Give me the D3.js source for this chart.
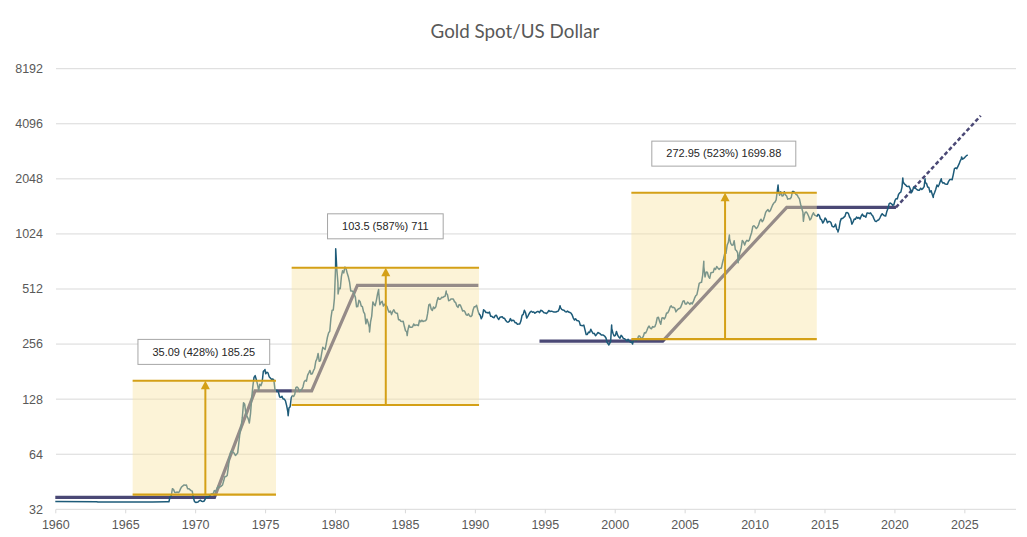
<!DOCTYPE html>
<html><head><meta charset="utf-8">
<script src="https://cdn.jsdelivr.net/npm/d3@7"></script>
<style>body{margin:0;background:#fff} svg{display:block}</style>
</head><body><svg id="c" width="1027" height="537"></svg>
<script>
const title = "Gold Spot/US Dollar";
const yTicks = [32, 64, 128, 256, 512, 1024, 2048, 4096, 8192];
const xTicks = [1960, 1965, 1970, 1975, 1980, 1985, 1990, 1995, 2000, 2005, 2010, 2015, 2020, 2025];

const earlyYears = [1960.0, 1962.95, 1963.05, 1966.95, 1967.95];
const earlyPrices = [35.27, 35.23, 35.09, 35.13, 35.2];

const monthlyStartYear = 1968;
const monthlyPrices = [
  35.2, 35.2, 37.5, 38.0, 41.5, 41.0, 39.5, 39.5, 39.8, 39.5, 40.0, 41.5,
  42.5, 43.0, 43.5, 43.3, 43.5, 41.5, 41.5, 41.0, 40.5, 40.2, 37.0, 35.2,
  34.9, 35.0, 35.1, 35.6, 35.9, 35.4, 35.3, 35.4, 36.2, 37.5, 37.4, 37.4,
  37.9, 38.7, 38.9, 39.0, 40.5, 40.1, 41.0, 42.7, 42.0, 42.5, 42.9, 43.5,
  45.8, 48.3, 48.3, 49.0, 54.6, 62.1, 65.7, 67.0, 65.5, 64.9, 63.0, 63.9,
  65.1, 74.2, 84.4, 90.5, 102.0, 122.5, 120.0, 106.8, 103.0, 100.1, 94.8, 106.7,
  129.2, 150.2, 168.4, 172.2, 163.3, 154.1, 143.0, 154.6, 151.8, 158.8, 181.7, 183.9,
  176.3, 179.6, 178.2, 169.9, 167.2, 164.2, 165.1, 163.0, 144.1, 142.8, 142.9, 139.3,
  131.6, 131.0, 132.6, 128.2, 128.1, 125.3, 117.9, 109.4, 114.5, 116.4, 130.3, 133.8,
  132.3, 136.3, 148.3, 149.2, 146.9, 140.8, 143.3, 144.8, 149.2, 159.0, 162.1, 160.5,
  173.2, 178.2, 183.7, 175.3, 176.3, 183.1, 188.3, 206.1, 212.4, 227.4, 206.0, 207.8,
  227.3, 245.7, 242.1, 239.2, 257.6, 279.1, 294.7, 300.8, 355.1, 391.7, 392.5, 455.1,
  675.3, 665.3, 553.6, 517.4, 513.8, 600.7, 644.3, 626.5, 673.6, 661.1, 623.5, 594.9,
  557.4, 500.0, 499.8, 495.8, 479.7, 460.8, 409.3, 410.2, 443.8, 437.8, 413.4, 410.1,
  384.1, 374.2, 330.4, 350.4, 334.0, 314.8, 338.6, 364.1, 435.2, 422.5, 415.0, 444.2,
  481.3, 491.3, 419.7, 432.8, 438.3, 412.9, 422.9, 416.3, 411.8, 393.7, 381.8, 388.1,
  370.9, 386.0, 394.3, 381.3, 377.6, 377.6, 347.8, 347.7, 341.1, 340.2, 341.2, 320.2,
  302.8, 299.0, 303.9, 324.3, 316.3, 316.8, 317.4, 329.6, 323.2, 325.8, 325.4, 322.5,
  345.4, 338.9, 345.7, 340.4, 342.5, 342.8, 348.3, 376.6, 418.9, 423.2, 398.1, 391.0,
  408.2, 401.1, 408.9, 438.4, 460.1, 449.8, 450.9, 461.0, 460.0, 465.5, 467.5, 486.3,
  477.0, 442.1, 443.6, 452.1, 451.5, 451.6, 437.0, 431.5, 413.0, 406.4, 420.6, 418.8,
  404.0, 387.8, 390.1, 384.1, 371.0, 367.6, 374.9, 365.3, 361.8, 366.9, 394.2, 409.5,
  410.1, 416.8, 393.1, 374.3, 369.0, 352.3, 362.5, 394.7, 389.3, 380.8, 381.1, 378.2,
  383.6, 363.8, 363.3, 358.4, 356.8, 366.7, 367.7, 356.2, 348.7, 358.4, 359.8, 361.1,
  354.5, 353.9, 344.3, 338.6, 337.2, 340.8, 352.8, 342.9, 345.4, 344.4, 335.0, 334.7,
  329.0, 329.3, 329.9, 341.9, 367.2, 371.8, 392.0, 379.8, 355.3, 364.2, 373.9, 383.3,
  387.0, 382.0, 383.9, 377.3, 381.4, 385.6, 385.5, 380.4, 391.6, 389.8, 384.4, 379.3,
  378.6, 376.5, 382.1, 391.0, 385.3, 387.6, 386.2, 383.7, 383.1, 383.0, 385.5, 387.4,
  400.0, 404.8, 396.2, 392.9, 392.1, 385.3, 383.5, 387.5, 383.1, 381.1, 377.9, 369.2,
  354.9, 346.6, 351.8, 344.5, 343.8, 340.8, 324.1, 323.8, 322.8, 324.9, 306.0, 288.7,
  289.2, 297.5, 295.9, 308.4, 299.1, 292.3, 292.9, 284.1, 289.0, 295.9, 294.1, 291.6,
  287.1, 287.3, 285.9, 282.6, 276.4, 261.3, 256.1, 256.7, 264.7, 310.7, 293.2, 283.1,
  284.6, 300.0, 286.4, 279.7, 275.3, 285.7, 281.6, 274.5, 273.7, 270.0, 266.0, 272.0,
  265.5, 261.9, 263.0, 260.5, 272.4, 270.2, 267.5, 272.4, 283.4, 283.1, 276.2, 275.9,
  281.7, 295.5, 294.0, 302.7, 314.5, 321.2, 313.3, 310.3, 319.2, 316.6, 319.1, 332.6,
  356.9, 359.0, 340.6, 328.2, 355.7, 356.4, 351.0, 359.8, 378.9, 378.9, 389.9, 407.6,
  414.0, 405.3, 406.7, 403.0, 383.8, 392.4, 398.1, 400.5, 405.3, 420.5, 439.4, 441.8,
  424.0, 423.4, 434.2, 429.2, 421.9, 430.7, 424.5, 437.9, 456.0, 469.9, 476.7, 510.1,
  549.9, 555.0, 557.1, 610.6, 675.4, 596.2, 633.7, 632.6, 598.2, 585.8, 627.8, 629.8,
  631.2, 664.8, 654.9, 679.4, 666.9, 655.5, 665.3, 665.4, 712.7, 754.6, 806.3, 803.2,
  889.6, 922.3, 968.4, 909.7, 888.7, 889.5, 939.8, 839.0, 829.9, 806.6, 760.9, 816.1,
  858.7, 943.2, 924.3, 890.2, 928.6, 945.7, 934.2, 949.4, 996.6, 1043.2, 1127.0, 1134.7,
  1117.9, 1095.4, 1113.3, 1148.7, 1205.4, 1232.9, 1193.0, 1215.8, 1271.0, 1342.0, 1369.9, 1390.6,
  1356.4, 1372.7, 1424.0, 1473.8, 1510.4, 1528.7, 1572.8, 1755.8, 1771.9, 1665.2, 1738.9, 1652.2,
  1656.1, 1742.6, 1673.8, 1650.1, 1585.5, 1596.7, 1593.9, 1626.0, 1744.5, 1746.6, 1721.6, 1684.8,
  1671.9, 1627.6, 1593.1, 1487.9, 1414.0, 1343.4, 1285.5, 1347.1, 1348.6, 1316.6, 1275.8, 1221.5,
  1244.3, 1299.6, 1336.1, 1298.5, 1288.7, 1279.1, 1310.6, 1295.1, 1236.6, 1222.5, 1175.3, 1200.6,
  1250.8, 1227.1, 1178.6, 1198.9, 1198.6, 1181.5, 1128.3, 1117.9, 1124.8, 1159.3, 1086.4, 1068.3,
  1097.9, 1199.5, 1245.1, 1242.3, 1260.9, 1276.4, 1337.3, 1340.2, 1326.6, 1266.6, 1238.4, 1157.4,
  1192.1, 1234.2, 1231.1, 1266.9, 1246.0, 1260.3, 1236.8, 1283.0, 1314.1, 1279.5, 1281.9, 1264.5,
  1331.3, 1330.7, 1324.7, 1334.8, 1303.5, 1281.6, 1237.7, 1201.7, 1198.4, 1215.4, 1220.7, 1250.4,
  1291.8, 1320.1, 1300.9, 1285.9, 1283.7, 1359.0, 1412.9, 1500.4, 1510.6, 1494.8, 1470.0, 1479.1,
  1560.7, 1597.1, 1591.9, 1683.2, 1715.9, 1732.2, 1846.5, 1968.6, 1921.9, 1900.3, 1866.3, 1858.4,
  1867.6, 1808.2, 1718.2, 1760.0, 1850.3, 1834.6, 1807.8, 1785.3, 1775.1, 1776.9, 1821.0, 1790.4,
  1816.0, 1856.3, 1947.8, 1937.4, 1848.5, 1836.6, 1732.7, 1764.6, 1680.7, 1665.0, 1726.0, 1798.0,
  1897.9, 1855.2, 1912.3, 2000.1, 1992.2, 1942.9, 1951.0, 1918.2, 1915.2, 1916.2, 1985.8, 2030.0,
  2033.9, 2024.0, 2159.9, 2331.3, 2350.8, 2325.7, 2398.2, 2470.2, 2571.0, 2640.0, 2620.8, 2648.1,
  2690.0, 2730.0
];

const extremeYears = [1974.99, 1976.65, 1980.05, 1980.22, 1982.47, 1983.12, 1985.16, 1987.95, 1996.09, 1999.57, 1999.78, 2001.28, 2006.37, 2008.2, 2008.82, 2011.68, 2013.49, 2015.96, 2020.6, 2022.19, 2022.78, 2023.35, 2024.8, 2025.24];
const extremePrices = [186, 104, 850, 481, 298, 509, 285, 499, 415, 253, 325, 256, 725, 1011, 712, 1895, 1200, 1050, 2067, 2050, 1622, 2050, 2700, 2770];

const trendYears1 = [1960, 1971.38, 1974.28, 1978.33, 1981.6, 1990.25];
const trendPrices1 = [37.2, 37.2, 142, 142, 536, 536];
const trendYears2 = [1994.62, 2003.43, 2012.3, 2020.11];
const trendPrices2 = [266, 266, 1431, 1431];
const projYears = [2020.11, 2026.17];
const projPrices = [1431, 4532];

const boxStart = [1965.53, 1976.9, 2001.19];
const boxEnd = [1975.78, 1990.3, 2014.45];
const boxLow = [38.5, 118.9, 272.7];
const boxHigh = [161.4, 669, 1719];
const arrowYears = [1970.73, 1983.63, 2007.89];

const labelTexts = ["35.09 (428%) 185.25", "103.5 (587%) 711", "272.95 (523%) 1699.88"];
const labelYears = [1970.62, 1983.6, 2007.8];
const labelPrices = [232, 1127, 2813];

// ---------- build ----------
const svg = d3.select("#c");
const x = d3.scaleLinear().domain([1960, 2028.5]).range([55.3, 1013.3]);
const y = d3.scaleLog().base(2).domain([32, 8192]).range([509.3, 68.7]);
const sansFont = "'Liberation Sans', Arial, Helvetica, sans-serif";

const series = [];
earlyYears.forEach((yr, i) => series.push([yr, earlyPrices[i]]));
monthlyPrices.forEach((p, i) => series.push([monthlyStartYear + (i + 0.5) / 12, p]));
extremeYears.forEach((yr, i) => series.push([yr, extremePrices[i]]));
series.sort((a, b) => a[0] - b[0]);

svg.append("text").attr("x", 515).attr("y", 37.5).attr("text-anchor", "middle")
  .style("font-family", "Lato, 'Open Sans', sans-serif").style("font-size", "18.8px")
  .attr("fill", "#595959").text(title);

// gridlines
svg.append("g").selectAll("line").data(yTicks).join("line")
  .attr("x1", 56).attr("x2", 1016)
  .attr("y1", d => y(d)).attr("y2", d => y(d))
  .attr("stroke", "#d9d9d9").attr("stroke-width", 1);

// y axis labels
svg.append("g").selectAll("text").data(yTicks).join("text")
  .attr("x", 43).attr("y", d => y(d)).attr("dy", "0.35em").attr("text-anchor", "end")
  .style("font-family", sansFont).style("font-size", "12.5px")
  .attr("fill", "#595959").text(d => d);

// x axis
const xAxis = d3.axisBottom(x).tickValues(xTicks).tickFormat(d3.format("d")).tickSize(4).tickPadding(7);
const gx = svg.append("g").attr("transform", `translate(0,${y(32)})`).call(xAxis);
gx.select(".domain").remove();
gx.selectAll(".tick line").attr("stroke", "#d9d9d9");
gx.selectAll(".tick text").style("font-family", sansFont)
  .style("font-size", "12.5px").attr("fill", "#595959");

// trend lines
const line = d3.line().x(d => x(d[0])).y(d => y(d[1]));
const purple = "#4a4875";
[[trendYears1, trendPrices1], [trendYears2, trendPrices2]].forEach(([ys, ps]) => {
  svg.append("path").datum(ys.map((v, i) => [v, ps[i]])).attr("d", line)
    .attr("fill", "none").attr("stroke", purple).attr("stroke-width", 3.2);
});
svg.append("path").datum(projYears.map((v, i) => [v, projPrices[i]])).attr("d", line)
  .attr("fill", "none").attr("stroke", purple).attr("stroke-width", 2.5)
  .attr("stroke-dasharray", "4,2.5");

// price line
svg.append("path").datum(series).attr("d", line)
  .attr("fill", "none").attr("stroke", "#1d5b79").attr("stroke-width", 1.5)
  .attr("stroke-linejoin", "round");

// boxes
const gold = "#d4a017";
const boxes = boxStart.map((s, i) => ({ s, e: boxEnd[i], lo: boxLow[i], hi: boxHigh[i], a: arrowYears[i] }));
svg.append("g").selectAll("rect").data(boxes).join("rect")
  .attr("x", d => x(d.s)).attr("width", d => x(d.e) - x(d.s))
  .attr("y", d => y(d.hi)).attr("height", d => y(d.lo) - y(d.hi))
  .attr("fill", "#f7e3a3").attr("fill-opacity", 0.43);

const gl = svg.append("g");
boxes.forEach(d => {
  [d.lo, d.hi].forEach(v => {
    gl.append("line").attr("x1", x(d.s)).attr("x2", x(d.e)).attr("y1", y(v)).attr("y2", y(v))
      .attr("stroke", gold).attr("stroke-width", 2.2);
  });
  const ax = x(d.a), top = y(d.hi);
  gl.append("line").attr("x1", ax).attr("x2", ax).attr("y1", y(d.lo)).attr("y2", top + 6)
    .attr("stroke", gold).attr("stroke-width", 2);
  gl.append("path").attr("d", `M${ax},${top} L${ax - 4.5},${top + 8.5} L${ax + 4.5},${top + 8.5} Z`)
    .attr("fill", gold);
});

// labels
const lg = svg.append("g");
labelTexts.forEach((t, i) => {
  const cx = x(labelYears[i]), cy = y(labelPrices[i]);
  const g = lg.append("g");
  const rect = g.append("rect").attr("fill", "#fff").attr("stroke", "#a6a6a6").attr("stroke-width", 1);
  const txt = g.append("text").attr("x", cx).attr("y", cy).attr("dy", "0.35em").attr("text-anchor", "middle")
    .style("font-family", sansFont).style("font-size", "11px")
    .attr("fill", "#262626").text(t);
  const w = txt.node().getComputedTextLength() + 29;
  rect.attr("x", cx - w / 2).attr("y", cy - 12.5).attr("width", w).attr("height", 25);
});
</script></body></html>
